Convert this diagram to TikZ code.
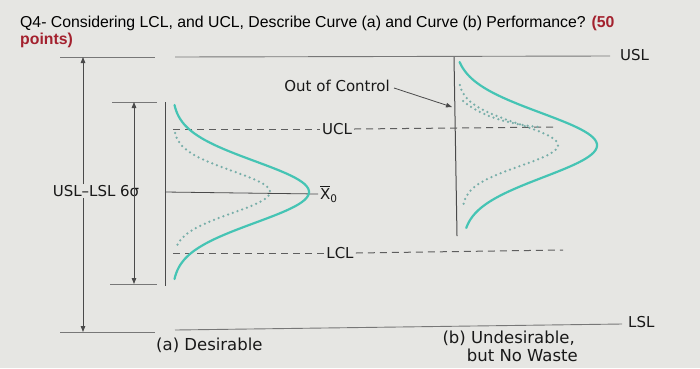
\documentclass[tikz,border=0pt]{standalone}
\usepackage{amsmath}
\usepackage{fontspec}
\setmainfont{DejaVu Sans}
\newfontfamily\titlefont{Liberation Sans}
\usepackage{tikz}
\usetikzlibrary{arrows.meta,positioning}
\definecolor{paperbg}{HTML}{E6E6E3}
\definecolor{curveteal}{HTML}{45C4B4}
\definecolor{dotteal}{HTML}{78AEA9}
\definecolor{lineink}{HTML}{4A4A4A}
\definecolor{dashink}{HTML}{5E5E5E}
\definecolor{titlered}{HTML}{A3212E}
\tikzset{
  limitline/.style={draw=lineink!75,line width=.9pt},
  axisline/.style={draw=lineink,line width=1pt},
  ctrlline/.style={draw=dashink,line width=1pt,dash pattern=on 7pt off 5pt},
  dimarrow/.style={{Triangle[length=6pt,width=4.5pt]}-{Triangle[length=6pt,width=4.5pt]},draw=lineink,line width=.8pt},
  pointer/.style={-{Triangle[length=6pt,width=4.5pt]},draw=lineink,line width=.8pt},
  solidcurve/.style={draw=curveteal,line width=2.2pt,line cap=round},
  dotcurve/.style={draw=dotteal,line width=2.5pt,line cap=round,dash pattern=on 0pt off 5pt},
  lbl/.style={font=\fontsize{15}{17}\selectfont,text=black!90,inner sep=2pt},
  caption/.style={font=\fontsize{16.5}{18}\selectfont,text=black!90,inner sep=1pt,align=left},
  titletext/.style={font=\titlefont\fontsize{15.8}{17}\selectfont,align=left,inner sep=0pt},
}

\begin{document}
\begin{tikzpicture}[x=1pt,y=-1pt]
    \useasboundingbox (0,0) rectangle (700,368);
    \fill[paperbg] (0,0) rectangle (700,368);
    % title
    \node[titletext,anchor=base west] (title) at (20,44) {Q4- Considering LCL, and UCL, Describe Curve (a) and Curve (b) Performance? {\color{titlered}\bfseries(50}\\{\color{titlered}\bfseries points)}};
    % specification limits
    \coordinate (uslA) at (60,57); \coordinate (uslB) at (155,57);
    \coordinate (uslC) at (175,57); \coordinate (uslD) at (610,56);
    \coordinate (lslA) at (60,332); \coordinate (lslB) at (155,332);
    \coordinate (lslC) at (175,330); \coordinate (lslD) at (622,324);
    \draw[limitline] (uslA)--(uslB); \draw[limitline] (uslC)--(uslD);
    \draw[limitline] (lslA)--(lslB); \draw[limitline] (lslC)--(lslD);
    \node[lbl,anchor=west] (usl) at (618,55) {USL};
    \node[lbl,anchor=west] (lsl) at (626,322) {LSL};
    % tolerance width
    \coordinate (tolTop) at (83,57); \coordinate (tolBot) at (83,332);
    \node[lbl,inner sep=1pt] (tol) at (96,191) {USL–LSL 6σ};
    \draw[pointer] (tol.north-|tolTop)--(tolTop);
    \draw[pointer] (tol.south-|tolBot)--(tolBot);
    % six sigma spread
    \coordinate (sigA) at (112,102); \coordinate (sigB) at (157,102);
    \coordinate (sigC) at (110,284); \coordinate (sigD) at (157,284);
    \draw[limitline] (sigA)--(sigB); \draw[limitline] (sigC)--(sigD);
    \coordinate (sigTop) at (134,102); \coordinate (sigBot) at (134,284);
    \draw[dimarrow] (sigTop)--(sigBot);
    % axes of the two processes
    \coordinate (axAtop) at (165,102); \coordinate (axAbot) at (165,286);
    \coordinate (axBtop) at (454,57); \coordinate (axBbot) at (457,236);
    \draw[axisline] (axAtop)--(axAbot); \draw[axisline] (axBtop)--(axBbot);
    % mean line
    \node[lbl,anchor=west] (xbar) at (318,194) {$\overline{\text{X}}_{\text{0}}$};
    \coordinate (meanL) at (165,192);
    \draw[axisline,line width=.8pt] (meanL)--(xbar.west);
    % control limits
    \coordinate (uclL) at (173,129); \coordinate (uclR) at (558,127);
    \node[lbl] (ucl) at (337,129) {UCL};
    \draw[ctrlline] (uclL)--(ucl.west); \draw[ctrlline] (ucl.east)--(uclR);
    \coordinate (lclL) at (173,253); \coordinate (lclR) at (563,250);
    \node[lbl] (lcl) at (340,253) {LCL};
    \draw[ctrlline] (lclL)--(lcl.west); \draw[ctrlline] (lcl.east)--(lclR);
    % out of control pointer
    \node[lbl,anchor=east] (ooc) at (392,86) {Out of Control};
    \coordinate (oocTip) at (452,107);
    \draw[pointer] (ooc.east)++(2,2)--(oocTip);
    % curve (a)
    \draw[solidcurve] plot[domain=-87:87,samples=80] ({172+137*exp(-(\x)^2/1893)},{192+\x});
    \draw[dotcurve] plot[domain=-59:55,samples=80] ({173+97*exp(-(\x)^2/900)},{192+\x});
    % curve (b)
    \draw[solidcurve] plot[domain=-83:83,samples=80] ({458+139*exp(-(\x)^2/2062)+.04*\x},{145+\x});
    \draw[dotcurve] plot[domain=-60:62,samples=80] ({460+98*exp(-(\x)^2/880)+.03*\x},{145+\x});
    \coordinate (hatchA) at (463,101); \coordinate (hatchB) at (538,127);
    \draw[dotcurve] (hatchA) .. controls (482,117) and (510,124) .. (hatchB);
    % captions
    \node[caption,anchor=base west] (capA) at (155,350) {(a) Desirable};
    \node[caption,anchor=base east] (capB) at (576,343) {(b) Undesirable,};
    \node[caption,anchor=base east] (capC) at (579,361) {but No Waste};
  \end{tikzpicture}
\end{document}
